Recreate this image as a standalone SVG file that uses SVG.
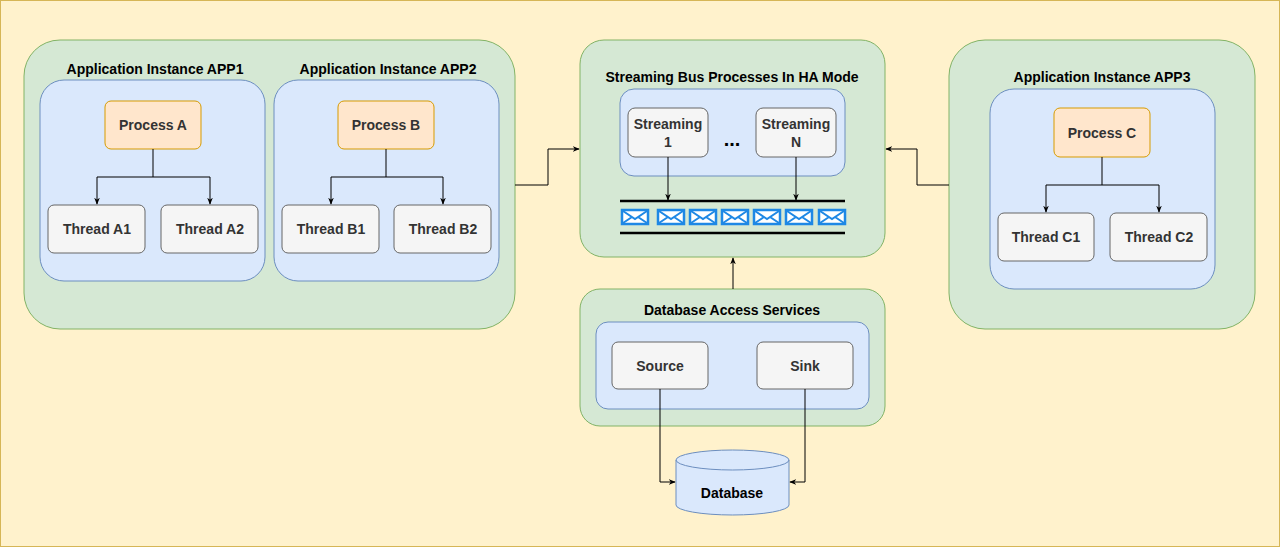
<svg xmlns="http://www.w3.org/2000/svg" width="1280" height="547" viewBox="0 0 1280 547">
<defs>
<marker id="ar" viewBox="0 0 10 10" refX="9" refY="5" markerWidth="7" markerHeight="7" orient="auto"><path d="M0,1 L10,5 L0,9 L3,5 Z" fill="#000"/></marker>
<g id="env"><rect x="0" y="0" width="26" height="14" fill="#fff" stroke="#1e88e5" stroke-width="2.5"/><path d="M1,1 L13,9 L25,1 M1,13 L10,7 M25,13 L16,7" fill="none" stroke="#1e88e5" stroke-width="2"/></g>
</defs>
<style>
text{font-family:"Liberation Sans",Arial,sans-serif;font-weight:bold;text-anchor:middle;fill:#000}
.t{font-size:14px}
.n{font-size:14px;fill:#333}
.g{fill:#d5e8d4;stroke:#82b366}
.b{fill:#dae8fc;stroke:#6c8ebf}
.o{fill:#ffe6cc;stroke:#d79b00}
.w{fill:#f5f5f5;stroke:#666}
.c{fill:none;stroke:#000;stroke-width:1;marker-end:url(#ar)}
</style>
<rect x="0.5" y="0.5" width="1279" height="546" fill="#fff2cc" stroke="#d6b656"/>
<g id="app12">
<rect class="g" x="24" y="40" width="491" height="289" rx="36"/>
<g id="app1"><rect class="b" x="40" y="80" width="225" height="201" rx="24"/><text class="t" x="155" y="74">Application Instance APP1</text></g>
<g id="app2"><rect class="b" x="274" y="80" width="225" height="201" rx="24"/><text class="t" x="388" y="74">Application Instance APP2</text></g>
</g>
<g id="pa"><rect class="o" x="105" y="101" width="96" height="48" rx="6"/><text class="n" x="153" y="130">Process A</text></g>
<g id="ta1"><rect class="w" x="48" y="205" width="97" height="48" rx="6"/><text class="n" x="97" y="234">Thread A1</text></g>
<g id="ta2"><rect class="w" x="161" y="205" width="97" height="48" rx="6"/><text class="n" x="210" y="234">Thread A2</text></g>
<g id="pb"><rect class="o" x="338" y="101" width="96" height="48" rx="6"/><text class="n" x="386" y="130">Process B</text></g>
<g id="tb1"><rect class="w" x="282" y="205" width="97" height="48" rx="6"/><text class="n" x="331" y="234">Thread B1</text></g>
<g id="tb2"><rect class="w" x="394" y="205" width="97" height="48" rx="6"/><text class="n" x="443" y="234">Thread B2</text></g>
<g id="bus">
<rect class="g" x="580" y="40" width="305" height="217" rx="24"/>
<text class="t" x="732" y="82">Streaming Bus Processes In HA Mode</text>
<rect class="b" x="620" y="89" width="225" height="87" rx="14"/>
<text x="732" y="146" style="font-size:20px">...</text>
<line x1="620" y1="201" x2="845" y2="201" stroke="#000" stroke-width="2.5"/>
<line x1="620" y1="233" x2="845" y2="233" stroke="#000" stroke-width="2.5"/>
<use href="#env" x="622" y="210"/><use href="#env" x="658" y="210"/><use href="#env" x="690" y="210"/><use href="#env" x="722" y="210"/><use href="#env" x="754" y="210"/><use href="#env" x="786" y="210"/><use href="#env" x="819" y="210"/>
</g>
<g id="s1"><rect class="w" x="628" y="108" width="80" height="49" rx="7"/><text class="n" x="668" y="129">Streaming</text><text class="n" x="668" y="147">1</text></g>
<g id="sn"><rect class="w" x="756" y="108" width="80" height="49" rx="7"/><text class="n" x="796" y="129">Streaming</text><text class="n" x="796" y="147">N</text></g>
<g id="app3">
<rect class="g" x="949" y="40" width="306" height="289" rx="36"/>
<text class="t" x="1102" y="82">Application Instance APP3</text>
<rect class="b" x="990" y="89" width="225" height="200" rx="24"/>
</g>
<g id="pc"><rect class="o" x="1054" y="108" width="96" height="49" rx="6"/><text class="n" x="1102" y="138">Process C</text></g>
<g id="tc1"><rect class="w" x="998" y="213" width="96" height="48" rx="6"/><text class="n" x="1046" y="242">Thread C1</text></g>
<g id="tc2"><rect class="w" x="1110" y="213" width="97" height="48" rx="6"/><text class="n" x="1159" y="242">Thread C2</text></g>
<g id="das">
<rect class="g" x="580" y="289" width="305" height="137" rx="20"/>
<text class="t" x="732" y="315">Database Access Services</text>
<rect class="b" x="596" y="322" width="273" height="87" rx="12"/>
</g>
<g id="src"><rect class="w" x="612" y="342" width="96" height="47" rx="6"/><text class="n" x="660" y="371">Source</text></g>
<g id="sink"><rect class="w" x="757" y="342" width="96" height="47" rx="6"/><text class="n" x="805" y="371">Sink</text></g>
<g id="db">
<path d="M676,460 A56.5,10 0 0 1 789,460 L789,505 A56.5,10 0 0 1 676,505 Z" class="b"/>
<path d="M676,460 A56.5,10 0 0 0 789,460" fill="none" stroke="#6c8ebf"/>
<text class="t" x="732" y="498">Database</text>
</g>
<g id="connectors">
<path class="c" d="M153,149 V177 H97 V204"/>
<path class="c" d="M153,177 H210 V204"/>
<path class="c" d="M386,149 V177 H331 V204"/>
<path class="c" d="M386,177 H443 V204"/>
<path class="c" d="M1102,157 V185 H1046 V212"/>
<path class="c" d="M1102,185 H1159 V212"/>
<path class="c" d="M668,157 V200"/>
<path class="c" d="M796,157 V200"/>
<path class="c" d="M515,185 H548 V149 H579"/>
<path class="c" d="M949,185 H917 V149 H886"/>
<path class="c" d="M733,289 V258"/>
<path class="c" d="M660,389 V482 H675"/>
<path class="c" d="M805,389 V482 H790"/>
</g>
</svg>
